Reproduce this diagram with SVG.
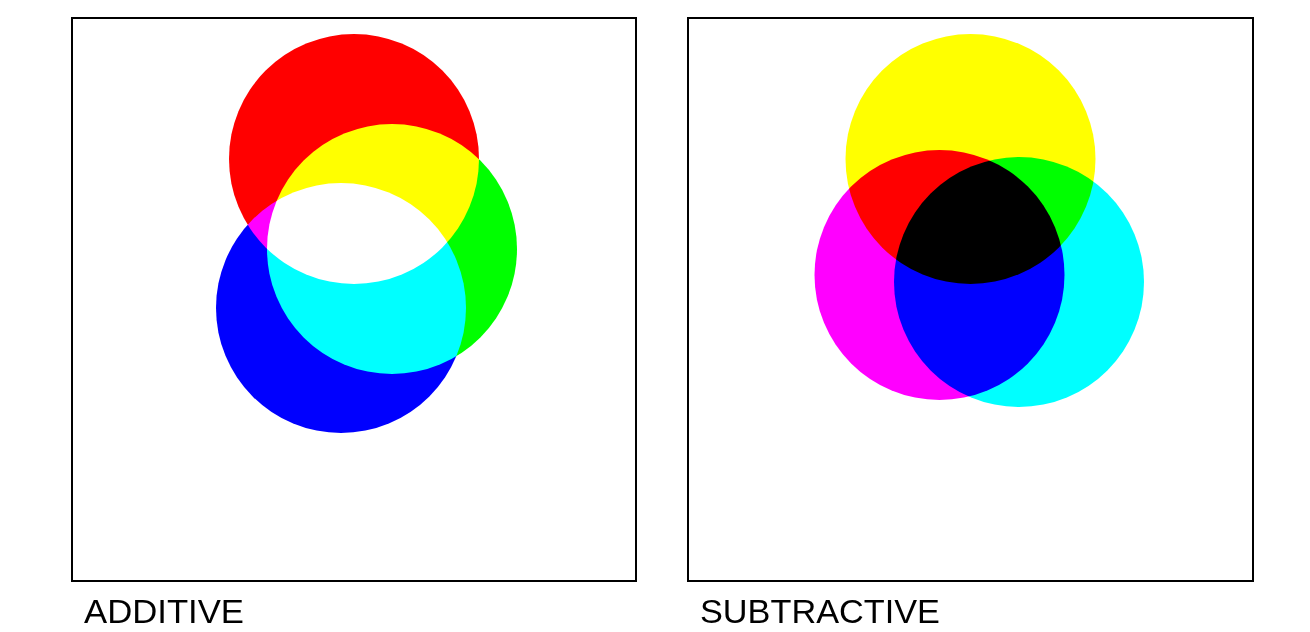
<svg xmlns="http://www.w3.org/2000/svg" width="1310" height="632" viewBox="0 0 1310 632">
  <style>
    .frame { fill: #ffffff; stroke: #000000; stroke-width: 2; }
    .label { font-family: "Liberation Sans", Arial, sans-serif; font-size: 34px; fill: #000000; }
    .add { isolation: isolate; }
    .add circle { mix-blend-mode: screen; }
    .sub { isolation: isolate; }
    .sub circle { mix-blend-mode: multiply; }
  </style>
  <rect width="1310" height="632" fill="#ffffff"/>
  <g id="additive">
    <rect class="frame" x="72" y="18" width="564" height="563"/>
    <g class="add">
      <circle cx="354" cy="159" r="125" fill="#ff0000"/>
      <circle cx="392" cy="249" r="125" fill="#00ff00"/>
      <circle cx="341" cy="308" r="125" fill="#0000ff"/>
    </g>
    <text class="label" x="84" y="623" textLength="160" lengthAdjust="spacingAndGlyphs">ADDITIVE</text>
  </g>
  <g id="subtractive">
    <rect class="frame" x="688" y="18" width="565" height="563"/>
    <g class="sub">
      <circle cx="970.5" cy="159" r="125" fill="#ffff00"/>
      <circle cx="939.5" cy="275" r="125" fill="#ff00ff"/>
      <circle cx="1019" cy="282" r="125" fill="#00ffff"/>
    </g>
    <text class="label" x="700" y="623" textLength="240" lengthAdjust="spacingAndGlyphs">SUBTRACTIVE</text>
  </g>
</svg>
